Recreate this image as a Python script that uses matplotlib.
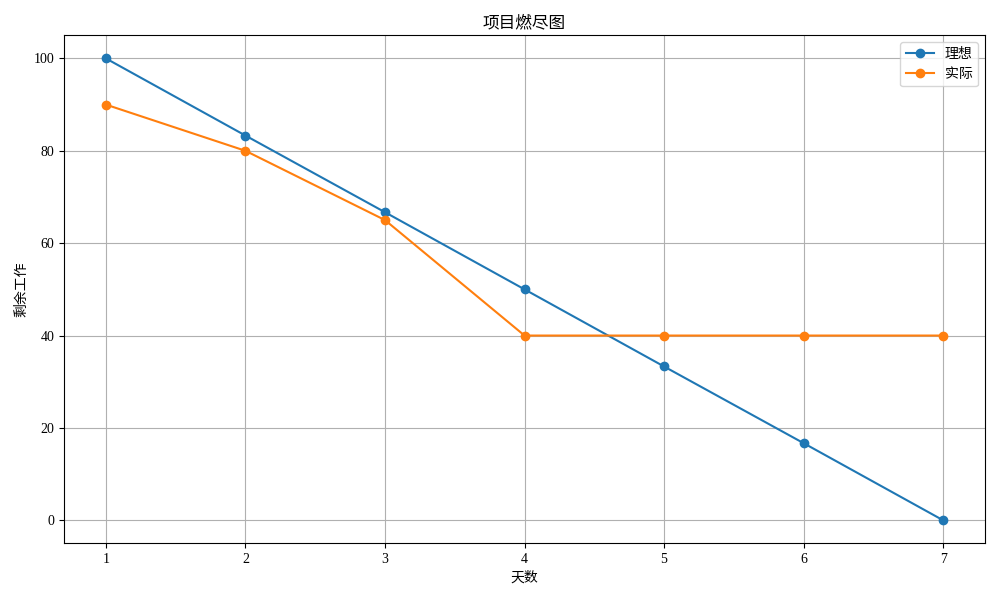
import matplotlib
matplotlib.use("Agg")
import matplotlib.pyplot as plt

plt.rcParams['font.family'] = ['Liberation Serif', 'Noto Sans CJK SC']
plt.rcParams['axes.unicode_minus'] = False

days = [1, 2, 3, 4, 5, 6, 7]
ideal = [100, 83.3, 66.7, 50, 33.3, 16.7, 0]
actual = [90, 80, 65, 40, 40, 40, 40]

fig, ax = plt.subplots(figsize=(10, 6), dpi=100)
ax.plot(days, ideal, marker='o', label='理想')
ax.plot(days, actual, marker='o', label='实际')
ax.set_title('项目燃尽图')
ax.set_xlabel('天数')
ax.set_ylabel('剩余工作')
ax.grid(True)
ax.legend()
fig.tight_layout()
fig.savefig('out.png')
